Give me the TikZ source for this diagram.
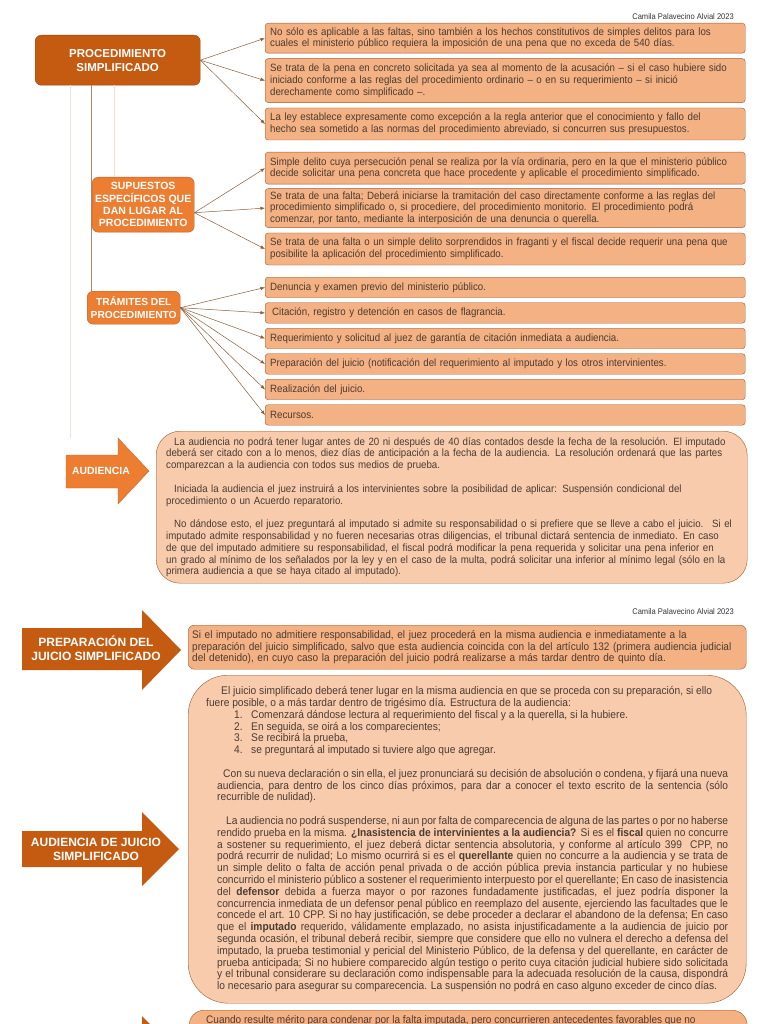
\documentclass[tikz,border=0pt]{standalone}
\usepackage{fontspec}
\newfontfamily\bodyfont{Liberation Sans}[FakeStretch=0.92]
\newfontfamily\headfont{Liberation Sans}
\usetikzlibrary{positioning,arrows.meta}

\definecolor{cdark}{HTML}{C55A11}
\definecolor{cmid}{HTML}{ED7D31}
\definecolor{clight}{HTML}{F4B183}
\definecolor{cpale}{HTML}{F8CBAD}
\definecolor{cborder}{HTML}{9C5A30}
\definecolor{ctext}{HTML}{4A3C32}
\definecolor{clink}{HTML}{8B5E3C}
\definecolor{cline}{HTML}{EEE2DA}
\definecolor{ctrunk}{HTML}{B08468}

\newcommand\boxtext{\bodyfont\fontsize{10.55}{11.8}\selectfont}
\newcommand\longtext{\bodyfont\fontsize{10.9}{11.8}\selectfont}

\tikzset{
  headbox/.style={draw=#1!78!black, fill=#1, rounded corners=6pt, text=white, align=center, anchor=north west, inner sep=0pt},
  infobox/.style={draw=cborder, fill=clight, rounded corners=3pt, anchor=north west, minimum width=479pt, text width=470pt, inner xsep=5pt, inner ysep=0pt, align=left, text=ctext, font=\boxtext},
  bigbox/.style={draw=cborder, fill=cpale, anchor=north west, inner ysep=0pt, text=ctext, font=\longtext},
  link/.style={draw=clink, line width=0.5pt, -{Latex[length=4.5pt,width=3.5pt]}},
  paleline/.style={draw=cline, line width=1pt},
  trunk/.style={draw=ctrunk, line width=0.8pt},
  authornote/.style={anchor=base east, inner sep=0pt, text=black!80, font=\bodyfont\fontsize{8.2}{9}\selectfont},
  arrowtext/.style={text=white, align=center, inner sep=0pt},
}

\begin{document}
\begin{tikzpicture}[x=1pt, y=-1pt]
  \useasboundingbox (0,0) rectangle (768,1024);
  \clip (0,0) rectangle (768,1024);
  \fill[white] (0,0) rectangle (768,1024);

  % first page
  \node[authornote] (author1) at (734,20) {Camila Palavecino Alvial 2023};
  \node[headbox=cdark, minimum width=165pt, minimum height=50pt, font=\headfont\bfseries\fontsize{11.5}{14}\selectfont] (proc) at (35,35) {PROCEDIMIENTO\\SIMPLIFICADO};

  \node[infobox, minimum height=30pt] (a1) at (265,23) {No sólo es aplicable a las faltas, sino también a los hechos constitutivos de simples delitos para los\\cuales el ministerio público requiera la imposición de una pena que no exceda de 540 días.};
  \node[infobox, minimum height=44pt, below=5pt of a1] (a2) {Se trata de la pena en concreto solicitada ya sea al momento de la acusación – si el caso hubiere sido\\iniciado conforme a las reglas del procedimiento ordinario – o en su requerimiento – si inició\\derechamente como simplificado –.};
  \node[infobox, minimum height=32pt, below=5pt of a2] (a3) {La ley establece expresamente como excepción a la regla anterior que el conocimiento y fallo del\\hecho sea sometido a las normas del procedimiento abreviado, si concurren sus presupuestos.};

  \node[headbox=cmid, minimum width=102pt, minimum height=55pt, font=\headfont\bfseries\fontsize{10.5}{12.3}\selectfont] (sup) at (92,177) {SUPUESTOS\\ESPECÍFICOS QUE\\DAN LUGAR AL\\PROCEDIMIENTO};
  \node[infobox, minimum height=32pt] (b1) at (265,152) {Simple delito cuya persecución penal se realiza por la vía ordinaria, pero en la que el ministerio público\\decide solicitar una pena concreta que hace procedente y aplicable el procedimiento simplificado.};
  \node[infobox, minimum height=39pt, below=4pt of b1] (b2) {Se trata de una falta; Deberá iniciarse la tramitación del caso directamente conforme a las reglas del\\procedimiento simplificado o, si procediere, del procedimiento monitorio. El procedimiento podrá\\comenzar, por tanto, mediante la interposición de una denuncia o querella.};
  \node[infobox, minimum height=32pt, below=5pt of b2] (b3) {Se trata de una falta o un simple delito sorprendidos in fraganti y el fiscal decide requerir una pena que\\posibilite la aplicación del procedimiento simplificado.};

  \node[headbox=cmid, minimum width=93pt, minimum height=33pt, font=\headfont\bfseries\fontsize{10.2}{13}\selectfont] (tram) at (87,291) {TRÁMITES DEL\\PROCEDIMIENTO};
  \node[infobox, minimum height=20.5pt] (c1) at (265,277) {Denuncia y examen previo del ministerio público.};
  \node[infobox, minimum height=20.5pt, below=4.6pt of c1] (c2) {\hspace*{2pt}Citación, registro y detención en casos de flagrancia.};
  \node[infobox, minimum height=20.5pt, below=4.6pt of c2] (c3) {Requerimiento y solicitud al juez de garantía de citación inmediata a audiencia.};
  \node[infobox, minimum height=20.5pt, below=4.6pt of c3] (c4) {Preparación del juicio (notificación del requerimiento al imputado y los otros intervinientes.};
  \node[infobox, minimum height=20.5pt, below=4.6pt of c4] (c5) {Realización del juicio.};
  \node[infobox, minimum height=20.5pt, below=4.6pt of c5] (c6) {Recursos.};

  % audiencia arrow
  \filldraw[fill=cmid, draw=cmid!85!black, line width=0.4pt] (66,455) -- (118,455) -- (118,438) -- (149,471) -- (118,504) -- (118,488) -- (66,488) -- cycle;
  \node[arrowtext, font=\headfont\bfseries\fontsize{10.4}{12}\selectfont] (aud) at (101,471) {AUDIENCIA};
  \coordinate (audtop) at (70,438);

  \node[bigbox, font=\boxtext, rounded corners=24pt, minimum width=591pt, minimum height=152pt, text width=583pt, inner xsep=4pt, align=left] (audbox) at (156,431) {%
    \hspace*{14pt}La audiencia no podrá tener lugar antes de 20 ni después de 40 días contados desde la fecha de la resolución. El imputado\\
    \hspace*{6pt}deberá ser citado con a lo menos, diez días de anticipación a la fecha de la audiencia. La resolución ordenará que las partes\\
    \hspace*{6pt}comparezcan a la audiencia con todos sus medios de prueba.\\[11.8pt]
    \hspace*{14pt}Iniciada la audiencia el juez instruirá a los intervinientes sobre la posibilidad de aplicar: Suspensión condicional del\\
    \hspace*{6pt}procedimiento o un Acuerdo reparatorio.\\[11.8pt]
    \hspace*{14pt}No dándose esto, el juez preguntará al imputado si admite su responsabilidad o si prefiere que se lleve a cabo el juicio.~ Si el\\
    \hspace*{6pt}imputado admite responsabilidad y no fueren necesarias otras diligencias, el tribunal dictará sentencia de inmediato. En caso\\
    \hspace*{6pt}de que del imputado admitiere su responsabilidad, el fiscal podrá modificar la pena requerida y solicitar una pena inferior en\\
    \hspace*{6pt}un grado al mínimo de los señalados por la ley y en el caso de la multa, podrá solicitar una inferior al mínimo legal (sólo en la\\
    \hspace*{6pt}primera audiencia a que se haya citado al imputado).};

  % trunks from the title
  \coordinate (trunkmid) at (91,0);
  \coordinate (trunkright) at (114,0);
  \draw[paleline] (proc.south -| audtop) -- (audtop);
  \draw[trunk] (proc.south -| trunkmid) -- (tram.north -| trunkmid);
  \draw[paleline] (proc.south -| trunkright) -- (sup.north -| trunkright);

  \foreach \t in {a1,a2,a3}
    \draw[link] (proc.east) -- (\t.west);
  \foreach \t in {b1,b2,b3}
    \draw[link] ([yshift=-8pt]sup.east) -- (\t.west);
  \foreach \t in {c1,c2,c3,c4,c5,c6}
    \draw[link] (tram.east) -- (\t.west);

  % second page
  \node[authornote] (author2) at (734,614) {Camila Palavecino Alvial 2023};

  \fill[cdark] (22,628) -- (142,628) -- (142,610) -- (181,650) -- (142,690) -- (142,670) -- (22,670) -- cycle;
  \node[arrowtext, font=\headfont\bfseries\fontsize{12}{14.5}\selectfont] (prep) at (96,648) {PREPARACIÓN DEL\\JUICIO SIMPLIFICADO};
  \node[infobox, font=\longtext, rounded corners=6pt, minimum width=558pt, text width=550pt, inner xsep=4pt, minimum height=44pt] (d1) at (188,625) {Si el imputado no admitiere responsabilidad, el juez procederá en la misma audiencia e inmediatamente a la\\preparación del juicio simplificado, salvo que esta audiencia coincida con la del artículo 132 (primera audiencia judicial\\del detenido), en cuyo caso la preparación del juicio podrá realizarse a más tardar dentro de quinto día.};

  \node[bigbox, font=\bodyfont\fontsize{11.1}{11.8}\selectfont, rounded corners=40pt, minimum width=558pt, minimum height=328pt, text width=522pt, inner xsep=13pt, align=justify] (d2) at (188,675) {\parindent=0pt
    \hspace*{15pt}El juicio simplificado deberá tener lugar en la misma audiencia en que se proceda con su preparación, si ello\newline
    fuere posible, o a más tardar dentro de trigésimo día. Estructura de la audiencia:\newline
    \hspace*{28pt}\makebox[17pt][l]{1.}Comenzará dándose lectura al requerimiento del fiscal y a la querella, si la hubiere.\newline
    \hspace*{28pt}\makebox[17pt][l]{2.}En seguida, se oirá a los comparecientes;\newline
    \hspace*{28pt}\makebox[17pt][l]{3.}Se recibirá la prueba,\newline
    \hspace*{28pt}\makebox[17pt][l]{4.}se preguntará al imputado si tuviere algo que agregar.\par
    \vspace{11.8pt}
    {\leftskip=11pt
    \hspace*{6pt}Con su nueva declaración o sin ella, el juez pronunciará su decisión de absolución o condena, y fijará una nueva\linebreak
    audiencia, para dentro de los cinco días próximos, para dar a conocer el texto escrito de la sentencia (sólo\linebreak
    recurrible de nulidad).\par}
    \vspace{11.8pt}
    {\leftskip=11pt
    \hspace*{9pt}La audiencia no podrá suspenderse, ni aun por falta de comparecencia de alguna de las partes o por no haberse\linebreak
    rendido prueba en la misma. \textbf{¿Inasistencia de intervinientes a la audiencia?} Si es el \textbf{fiscal} quien no concurre\linebreak
    a sostener su requerimiento, el juez deberá dictar sentencia absolutoria, y conforme al artículo 399~ CPP, no\linebreak
    podrá recurrir de nulidad; Lo mismo ocurrirá si es el \textbf{querellante} quien no concurre a la audiencia y se trata de\linebreak
    un simple delito o falta de acción penal privada o de acción pública previa instancia particular y no hubiese\linebreak
    concurrido el ministerio público a sostener el requerimiento interpuesto por el querellante; En caso de inasistencia\linebreak
    del \textbf{defensor} debida a fuerza mayor o por razones fundadamente justificadas, el juez podría disponer la\linebreak
    concurrencia inmediata de un defensor penal público en reemplazo del ausente, ejerciendo las facultades que le\linebreak
    concede el art. 10 CPP. Si no hay justificación, se debe proceder a declarar el abandono de la defensa; En caso\linebreak
    que el \textbf{imputado} requerido, válidamente emplazado, no asista injustificadamente a la audiencia de juicio por\linebreak
    segunda ocasión, el tribunal deberá recibir, siempre que considere que ello no vulnera el derecho a defensa del\linebreak
    imputado, la prueba testimonial y pericial del Ministerio Público, de la defensa y del querellante, en carácter de\linebreak
    prueba anticipada; Si no hubiere comparecido algún testigo o perito cuya citación judicial hubiere sido solicitada\linebreak
    y el tribunal considerare su declaración como indispensable para la adecuada resolución de la causa, dispondrá\linebreak
    lo necesario para asegurar su comparecencia. La suspensión no podrá en caso alguno exceder de cinco días.\par}};

  \fill[cdark] (22,831) -- (142,831) -- (142,812) -- (179,849) -- (142,886) -- (142,867) -- (22,867) -- cycle;
  \node[arrowtext, font=\headfont\bfseries\fontsize{12}{14}\selectfont] (audjuicio) at (96,849) {AUDIENCIA DE JUICIO\\SIMPLIFICADO};

  % next item, cut by the page edge
  \fill[cdark] (22,1034) -- (142,1034) -- (142,1016) -- (180,1054) -- (142,1092) -- (142,1074) -- (22,1074) -- cycle;
  \node[draw=cborder, fill=clight, rounded corners=15pt, anchor=north west, minimum width=558pt, minimum height=60pt] (ebox) at (189,1010) {};
  \node[anchor=north west, inner sep=0pt, text=ctext, font=\longtext] (etext) at ([xshift=17pt,yshift=-5pt]ebox.north west) {Cuando resulte mérito para condenar por la falta imputada, pero concurrieren antecedentes favorables que no};
\end{tikzpicture}
\end{document}
